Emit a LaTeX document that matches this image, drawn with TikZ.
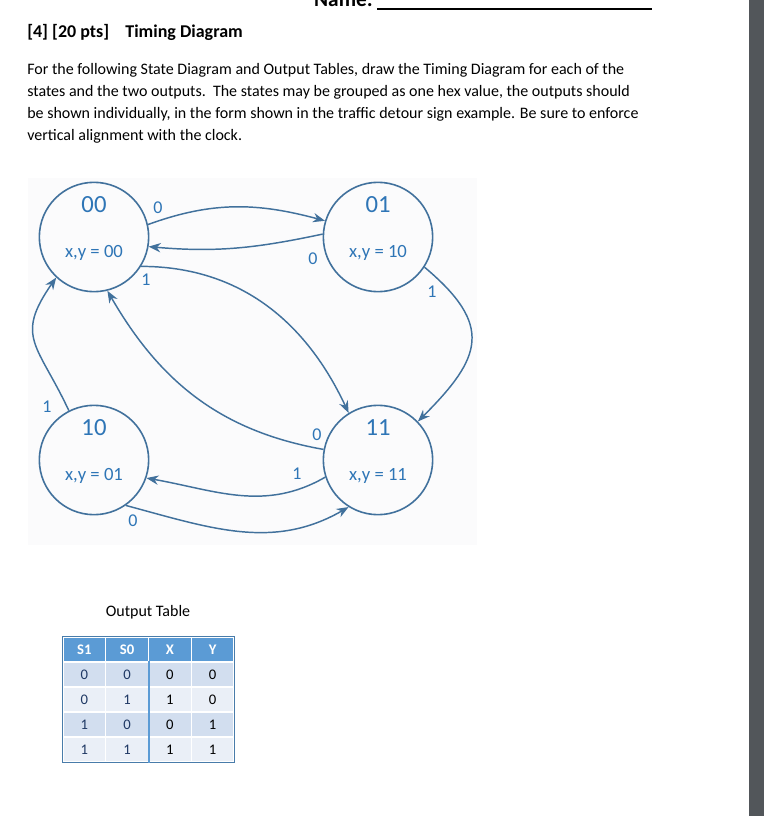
\documentclass[tikz,border=0pt]{standalone}
\usepackage{fontspec}
\setmainfont{Carlito}
\usetikzlibrary{arrows.meta}
\definecolor{ring}{HTML}{41719C}
\definecolor{lbl}{HTML}{2E75B6}
\definecolor{head}{HTML}{5B9BD5}
\definecolor{rowa}{HTML}{D2DEEF}
\definecolor{rowb}{HTML}{EAEFF7}
\definecolor{navy}{HTML}{1F3864}
\definecolor{bar}{HTML}{52565A}
\definecolor{panel}{HTML}{FBFBFC}
\tikzset{
    state/.style={circle, draw=ring, line width=1.2pt, minimum size=82pt, inner sep=0pt},
    sname/.style={text=lbl, font=\fontsize{18.5}{20}\selectfont},
    sout/.style={text=lbl, font=\fontsize{14}{16}\selectfont},
    elbl/.style={text=lbl, font=\fontsize{13.5}{15}\selectfont, inner sep=0pt},
    arr/.style={draw=ring, line width=1.1pt, -{Stealth[length=9pt, width=7pt]}},
    txt/.style={anchor=west, inner sep=0pt, font=\fontsize{12}{14}\selectfont},
    cell/.style={draw=white, line width=0.8pt, minimum width=32pt, minimum height=18.75pt, inner sep=0pt, font=\fontsize{11}{12}\selectfont}
}
\begin{document}
\begin{tikzpicture}[x=0.75pt, y=-0.75pt]
    \useasboundingbox (0,0) rectangle (764,816);
    \fill[bar] (749,0) rectangle (764,816);
    \node[anchor=base east, inner sep=0pt, font=\bfseries\fontsize{16}{18}\selectfont] (name) at (373,7) {Name:};
    \draw[line width=1.3pt] (377,9) -- (652,9);
    \node[txt, font=\bfseries\fontsize{13.5}{15}\selectfont] (title) at (27,32) {[4] [20 pts]\hspace{0.9em}Timing Diagram};
    \node[txt] (p1) at (27,70) {For the following State Diagram and Output Tables, draw the Timing Diagram for each of the};
    \node[txt] (p2) at (27,92) {states and the two outputs.\ \ The states may be grouped as one hex value, the outputs should};
    \node[txt] (p3) at (27,114) {be shown individually, in the form shown in the traffic detour sign example. Be sure to enforce};
    \node[txt] (p4) at (27,136) {vertical alignment with the clock.};

    \fill[panel] (28,178) rectangle (477,545);
    \foreach \s/\x/\y/\o in {00/94/237/00, 01/378/237/10, 10/94/460/01, 11/378/460/11} {
        \node[state] (n\s) at (\x,\y) {};
        \node[sname] (s\s) at (\x,\y-32) {\s};
        \node[sout] (o\s) at (\x,\y+16) {x,y = \o};
    }
    \draw[arr] (n00.13) to[out=20, in=165] (n01.163);
    \draw[arr] (n01.177) to[out=192, in=-5] (n00.-10);
    \draw[arr] (n00.-32) to[out=0, in=115] (n11.122);
    \draw[arr] (n11.169) to[out=170, in=-60] (n00.-76);
    \draw[arr] (n01.-33) to[out=-40, in=45, looseness=1.5] (n11.44);
    \draw[arr] (n11.198) to[out=210, in=-10] (n10.-19);
    \draw[arr] (n10.-55) to[out=-15, in=210] (n11.238);
    \draw[arr] (n10.117) to[out=115, in=235, looseness=1.4] (n00.227);
    \node[elbl] (e1) at (158,208) {0};
    \node[elbl] (e2) at (313,259) {0};
    \node[elbl] (e3) at (146,280) {1};
    \node[elbl] (e4) at (317,435) {0};
    \node[elbl] (e5) at (432,292) {1};
    \node[elbl] (e6) at (297,474) {1};
    \node[elbl] (e7) at (133,521) {0};
    \node[elbl] (e8) at (47,407) {1};

    \node[font=\fontsize{12}{14}\selectfont] (tname) at (148,612) {Output Table};
    \foreach \v [count=\k] in {S1,S0,X,Y}
        \node[cell, fill=head, text=white, font=\bfseries\fontsize{11}{12}\selectfont] (c0\k) at (41.6+42.75*\k,649.5) {\v};
    \foreach \r/\a/\b/\c/\d/\f in {1/0/0/0/0/rowa, 2/0/1/1/0/rowb, 3/1/0/0/1/rowa, 4/1/1/1/1/rowb} {
        \foreach \v/\k/\t in {\a/1/navy, \b/2/navy, \c/3/black, \d/4/black}
            \node[cell, fill=\f, text=\t] (c\r\k) at (41.6+42.75*\k,649.5+25*\r) {\v};
    }
    \draw[draw=head!80!black, line width=1.1pt] (c01.north west) rectangle (c44.south east);
    \draw[draw=head, line width=1.3pt] (c12.north east) -- (c42.south east);
\end{tikzpicture}
\end{document}
